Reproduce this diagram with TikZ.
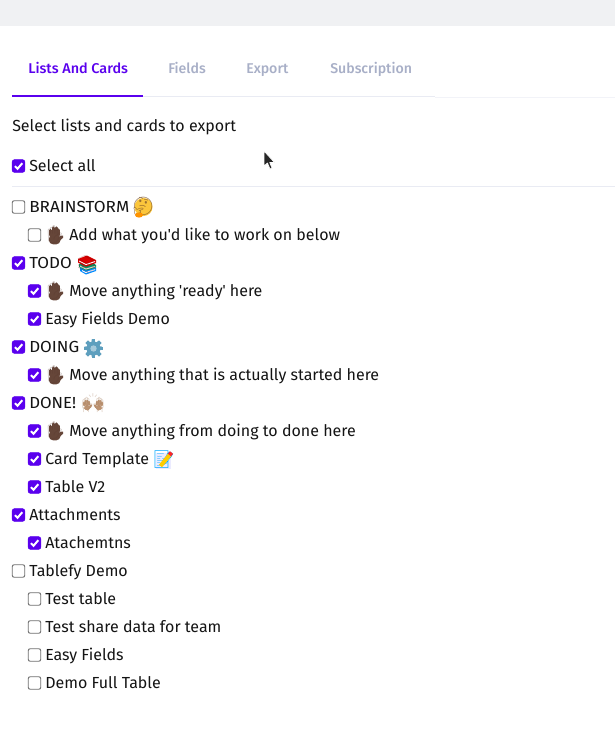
\documentclass[tikz,border=0pt]{standalone}
\usepackage{fontspec}
\usepackage{graphicx}
\setmainfont{Fira Sans}[Ligatures=ResetAll]
\newfontfamily\tabfont{Fira Sans Medium}
\newfontfamily\emojifont{Noto Emoji}
\newfontfamily\aposfont{Liberation Sans}[Ligatures=ResetAll]
\newcommand{\sq}{{\aposfont\symbol{39}}}
\definecolor{violet}{HTML}{5A00EE}
\definecolor{tabgray}{HTML}{A8AFC7}
\definecolor{rulegray}{HTML}{E9EBF3}
\definecolor{bandgray}{HTML}{F0F1F3}
\definecolor{boxgray}{HTML}{6F6F6F}
\definecolor{handbrown}{HTML}{664639}
\definecolor{handdark}{HTML}{57392F}
\definecolor{lighthand}{HTML}{BC9372}
\definecolor{lightdark}{HTML}{A67F5F}
\definecolor{faceyellow}{HTML}{FBC63C}
\definecolor{gearblue}{HTML}{5E9FBE}
\tikzset{
  x=0.75pt,y=-0.75pt,
  label text/.style={anchor=base west,inner sep=0pt,yshift=-0.1pt,font=\fontsize{12pt}{14pt}\selectfont,text=black!92},
  tab text/.style={anchor=base west,inner sep=0pt,yshift=-0.5pt,font=\tabfont\fontsize{10.6pt}{12pt}\selectfont},
  tickbox/.style={draw=violet,fill=violet,rounded corners=1.5pt,minimum size=9.4pt,inner sep=0pt,line width=0.4pt},
  emptybox/.style={draw=boxgray,fill=white,rounded corners=1.5pt,minimum size=9.4pt,inner sep=0pt,line width=0.7pt},
  emo/.style={anchor=center,inner sep=0pt,font=\emojifont\fontsize{13pt}{13pt}\selectfont},
}
\newcommand{\tick}[3]{% name x y
  \node[tickbox] (#1) at (#2,#3) {};
  \draw[white,line width=1.5pt] ([shift={(-3.6,0.2)}]#1.center) -- ([shift={(-1,2.8)}]#1.center) -- ([shift={(3.8,-2.8)}]#1.center);
}
\newcommand{\untick}[3]{\node[emptybox] (#1) at (#2,#3) {};}
% raised hand drawn round a centre, thumb on the right
\newcommand{\palm}[3]{%
  \begin{scope}[shift={(#1,#2)},line cap=round,line width=2.3pt,#3]
    \draw (-4.6,0) -- (-4.6,-4.6);
    \draw (-1.7,0) -- (-1.7,-7);
    \draw (1.2,0) -- (1.2,-7.2);
    \draw (3.9,0) -- (3.9,-5);
    \draw (4,4.5) -- (7,1.6);
    \fill[rounded corners=3pt] (-6,-0.5) rectangle (5.4,9.3);
  \end{scope}}
\newcommand{\hand}[2]{\palm{55}{#2}{handbrown,fill=handbrown}
  \node[emo,text=handdark,opacity=0.35] (#1) at (55,#2) {\symbol{"270B}};}
\begin{document}
\begin{tikzpicture}
\useasboundingbox (0,0) rectangle (615,729);
\fill[white] (0,0) rectangle (615,729);
\fill[bandgray] (0,0) rectangle (615,26);
% tabs
\node[tab text,text=violet] (t1) at (28,72.7) {\scalebox{1.02}[1]{Lists And Cards}};
\node[tab text,text=tabgray] (t2) at (168,72.7) {Fields};
\node[tab text,text=tabgray] (t3) at (246,72.7) {Export};
\node[tab text,text=tabgray] (t4) at (330,72.7) {Subscription};
\draw[rulegray!60,line width=0.75pt] (435,97) -- (615,97);
\draw[rulegray,line width=1.2pt] (143,96.5) -- (435,96.5);
\draw[violet,line width=1.5pt] (12,95.5) -- (143,95.5);
\node[label text] (head) at (12,131.7) {Select lists and cards to export};
% cursor
\draw[white,line width=0.5pt,fill=black!85,line join=round] (264,151) -- (264,166) -- (267.5,163) -- (270,169) -- (272,168) -- (269.7,162.5) -- (274.5,162.5) -- cycle;
% select all
\tick{c0}{18.5}{166}
\node[label text] (l0) at (29,171.7) {Select all};
\draw[rulegray,line width=0.75pt] (12,186.5) -- (615,186.5);
% BRAINSTORM
\untick{c1}{18.5}{207}
\node[label text] (l1) at (29,212.7) {\scalebox{1.07}[1]{BRAINSTORM}};
\fill[faceyellow] (143.5,207) circle (9);
\node[emo,text=brown!65!black,opacity=0.75,font=\emojifont\fontsize{13.5pt}{13.5pt}\selectfont] (e1) at (143,207) {\symbol{"1F914}};
\fill[orange!85!yellow] (139,215) ellipse (4 and 2.6);
\untick{c2}{34.5}{235}
\hand{h2}{235}
\node[label text] (l2) at (69,240.7) {Add what you\sq d like to work on below};
% TODO
\tick{c3}{18.5}{263}
\node[label text] (l3) at (29,268.7) {\scalebox{1.06}[1]{TODO}};
\fill[blue!45!cyan] (80,268) -- (90,265) -- (96,268) -- (96,271) -- (86,274.5) -- (80,271) -- cycle;
\fill[white] (82,270) -- (86,272) -- (95,269) -- (95,270) -- (86,273) -- (82,271) -- cycle;
\fill[teal!80!green] (79,264) -- (90,261) -- (96,265) -- (96,267.5) -- (86,270.5) -- (79,267) -- cycle;
\fill[white] (80,265.5) -- (86,268.5) -- (95,266) -- (95,267) -- (86,269.5) -- (80,266.5) -- cycle;
\fill[red!85!black] (78,259) -- (87,255.5) -- (96,260) -- (96,263) -- (86,266.5) -- (78,262.5) -- cycle;
\fill[white] (79,260.5) -- (86,264) -- (95,261) -- (95,262) -- (86,265) -- (79,261.5) -- cycle;
\node[emo,text=red!55!black,opacity=0.3] (e3) at (87,264.5) {\symbol{"1F4DA}};
\tick{c4}{34.5}{291}
\hand{h4}{291}
\node[label text] (l4) at (69,296.7) {Move anything \sq ready\sq{} here};
\tick{c5}{34.5}{319}
\node[label text] (l5) at (45,324.7) {Easy Fields Demo};
% DOING
\tick{c6}{18.5}{347}
\node[label text] (l6) at (29,352.7) {\scalebox{1.06}[1]{DOING}};
\foreach \a in {0,45,...,315}
  \fill[gearblue,rotate around={\a:(93.5,348.5)}] (91.6,338.8) rectangle (95.4,344);
\fill[gearblue] (93.5,348.5) circle (7);
\node[emo,text=gearblue] (e6) at (93.5,348.5) {\symbol{"2699}};
\fill[gearblue!55!white] (93.5,348.5) circle (3.2);
\tick{c7}{34.5}{375}
\hand{h7}{375}
\node[label text] (l7) at (69,380.7) {Move anything that is actually started here};
% DONE
\tick{c8}{18.5}{403}
\node[label text] (l8) at (29,408.7) {\scalebox{1.05}[1]{DONE!}};
\palm{87}{405}{lighthand,fill=lighthand,line width=1.5pt,rotate=8,scale=0.6}
\palm{99}{405}{lighthand,fill=lighthand,line width=1.5pt,xscale=-0.6,yscale=0.6,rotate=8}
\node[emo,text=lightdark,opacity=0.35,font=\emojifont\fontsize{14pt}{14pt}\selectfont] (e8) at (93,403.5) {\symbol{"1F64C}};
\tick{c9}{34.5}{431}
\hand{h9}{431}
\node[label text] (l9) at (69,436.7) {Move anything from doing to done here};
\tick{c10}{34.5}{459}
\node[label text] (l10) at (45,464.7) {Card Template};
\fill[white!92!blue] (155.5,453) rectangle (171,469);
\node[emo,text=blue!35!cyan] (e10) at (164,460) {\symbol{"1F4DD}};
\draw[orange!40!yellow,line width=3pt] (160.5,466) -- (169.5,455);
\draw[red!80!pink,line width=3pt] (169.5,455) -- (171.5,452.5);
\tick{c11}{34.5}{487}
\node[label text] (l11) at (45,492.7) {Table V2};
% Attachments
\tick{c12}{18.5}{515}
\node[label text] (l12) at (29,520.7) {Attachments};
\tick{c13}{34.5}{543}
\node[label text] (l13) at (45,548.7) {Atachemtns};
% Tablefy
\untick{c14}{18.5}{571}
\node[label text] (l14) at (29,576.7) {Tablefy Demo};
\untick{c15}{34.5}{599}
\node[label text] (l15) at (45,604.7) {Test table};
\untick{c16}{34.5}{627}
\node[label text] (l16) at (45,632.7) {Test share data for team};
\untick{c17}{34.5}{655}
\node[label text] (l17) at (45,660.7) {Easy Fields};
\untick{c18}{34.5}{683}
\node[label text] (l18) at (45,688.7) {Demo Full Table};
\end{tikzpicture}
\end{document}
